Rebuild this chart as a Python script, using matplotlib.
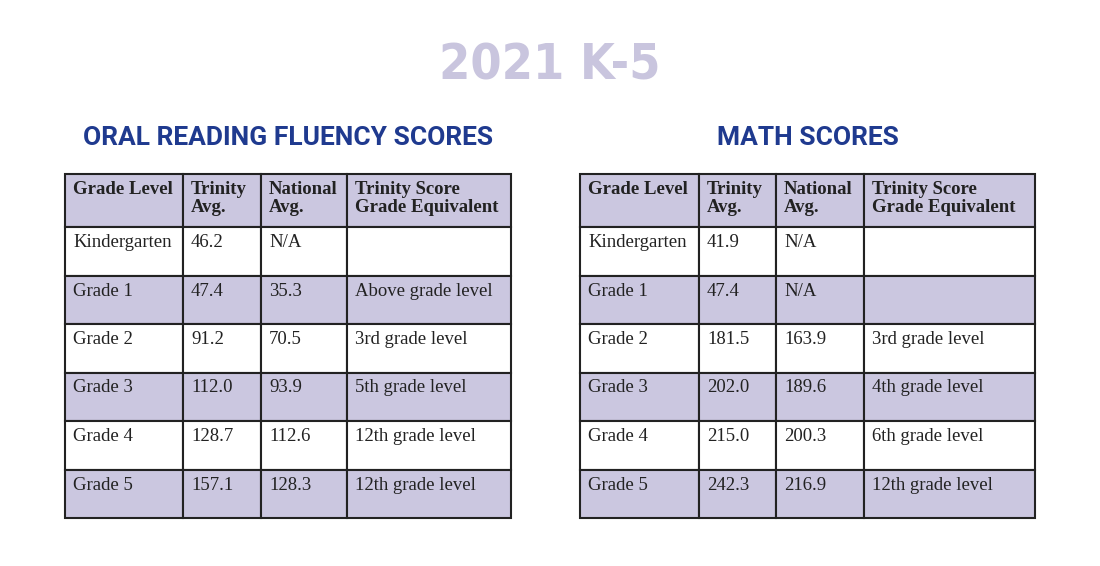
import matplotlib.pyplot as plt
from matplotlib.patches import Rectangle

title = "2021 K-5"
left_title = "ORAL READING FLUENCY SCORES"
right_title = "MATH SCORES"
header = ["Grade Level", "Trinity\nAvg.", "National\nAvg.", "Trinity Score\nGrade Equivalent"]
grades = ["Kindergarten", "Grade 1", "Grade 2", "Grade 3", "Grade 4", "Grade 5"]

reading_trinity = ["46.2", "47.4", "91.2", "112.0", "128.7", "157.1"]
reading_national = ["N/A", "35.3", "70.5", "93.9", "112.6", "128.3"]
reading_equiv = ["", "Above grade level", "3rd grade level", "5th grade level",
                 "12th grade level", "12th grade level"]

math_trinity = ["41.9", "47.4", "181.5", "202.0", "215.0", "242.3"]
math_national = ["N/A", "N/A", "163.9", "189.6", "200.3", "216.9"]
math_equiv = ["", "", "3rd grade level", "4th grade level",
              "6th grade level", "12th grade level"]

PURPLE = "#cbc7e0"
BLUE = "#1f3a8f"
SERIF = "Liberation Serif"

fig = plt.figure(figsize=(11, 5.66), dpi=100)
ax = fig.add_axes([0, 0, 1, 1])
ax.set_xlim(0, 1100)
ax.set_ylim(566, 0)
ax.axis('off')


def draw_table(cols, columns, top=174, head_h=53, row_h=48.5):
    rows = [header] + [list(r) for r in zip(*columns)]
    y = top
    for i, row in enumerate(rows):
        h = head_h if i == 0 else row_h
        fill = PURPLE if (i % 2 == 0) else "white"
        for j, txt in enumerate(row):
            x0, x1 = cols[j], cols[j + 1]
            ax.add_patch(Rectangle((x0, y), x1 - x0, h, facecolor=fill,
                                   edgecolor="#222222", lw=1.5))
            ax.text(x0 + 8, y + 7, txt, va='top', ha='left', family=SERIF,
                    fontsize=13.5, fontweight='bold' if i == 0 else 'normal',
                    color="#222222", linespacing=1.05)
        y += h


ax.text(550, 65, title, ha='center', va='center', fontsize=36, fontweight='bold',
        color="#c9c5de", family="DejaVu Sans", fontstretch='condensed')
ax.text(288, 138, left_title, ha='center', va='center', fontsize=19,
        fontweight='bold', color=BLUE, family="Roboto")
ax.text(808, 138, right_title, ha='center', va='center', fontsize=19,
        fontweight='bold', color=BLUE, family="Roboto")

draw_table([65, 183, 261, 347, 511], [grades, reading_trinity, reading_national, reading_equiv])
draw_table([580, 699, 776, 864, 1035], [grades, math_trinity, math_national, math_equiv])

fig.savefig("out.png", dpi=100)
